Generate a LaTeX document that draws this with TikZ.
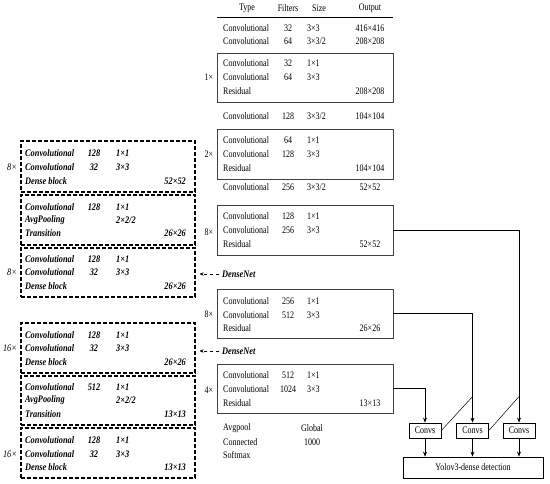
\documentclass[tikz,border=0pt]{standalone}
\usepackage{fontspec}
\setmainfont{Liberation Serif}[FakeStretch=0.8]
\newfontfamily\lfont{Liberation Serif}[FakeStretch=0.83]
\usetikzlibrary{arrows.meta}
\newcommand\trow[6]{%
  \node[txt,anchor=west] (#1t) at (223,#2) {#3};
  \node[txt] (#1f) at (288,#2) {#4};
  \node[txt,anchor=west] (#1s) at (307,#2) {#5};
  \node[txt] (#1o) at (370,#2) {#6};}
\newcommand\lrow[6]{%
  \node[ltxt,anchor=west] (#1t) at (25,#2) {#3};
  \node[ltxt] (#1f) at (94,#2) {#4};
  \node[ltxt,anchor=west] (#1s) at (116,#2) {#5};
  \node[ltxt,anchor=east] (#1o) at (186,#2) {#6};}
\begin{document}
\begin{tikzpicture}[x=1pt,y=-1pt,
  txt/.style={inner sep=0pt,font=\fontsize{10}{11}\selectfont},
  ltxt/.style={inner sep=0pt,font=\lfont\fontsize{10}{11}\selectfont\bfseries\itshape},
  mtxt/.style={inner sep=0pt,font=\lfont\fontsize{10}{11}\selectfont\itshape},
  rbox/.style={draw=black!75,line width=0.9pt,minimum width=176pt,inner sep=0pt},
  lbox/.style={draw,line width=1.1pt,dash pattern=on 4pt off 2pt,minimum width=174pt,inner sep=0pt},
  cbox/.style={draw,line width=0.8pt,minimum width=32pt,minimum height=15pt,inner sep=0pt,font=\fontsize{10}{11}\selectfont},
  arr/.style={-{Stealth[length=5pt,width=4pt]},line width=0.6pt},
  darr/.style={-{Stealth[length=4pt,width=3.5pt]},line width=0.8pt,dash pattern=on 3pt off 3pt}]
\useasboundingbox (0,0) rectangle (550,484);
% header
\node[txt] (hT) at (247,8) {Type};
\node[txt] (hF) at (288,8) {Filters};
\node[txt] (hS) at (319,8) {Size};
\node[txt] (hO) at (370,8) {Output};
\draw[line width=0.8pt] (217,17) -- (393,17);
% right table
\trow{a}{28}{Convolutional}{32}{3×3}{416×416}
\trow{b}{41}{Convolutional}{64}{3×3/2}{208×208}
\node[rbox,minimum height=49pt] (b1) at (305,77.5) {};
\trow{c}{63}{Convolutional}{32}{1×1}{}
\trow{d}{77}{Convolutional}{64}{3×3}{}
\trow{e}{91}{Residual}{}{}{208×208}
\node[txt] (m1) at (209,77) {1×};
\trow{f}{116}{Convolutional}{128}{3×3/2}{104×104}
\node[rbox,minimum height=50pt] (b2) at (305,154) {};
\trow{g}{140}{Convolutional}{64}{1×1}{}
\trow{h}{154}{Convolutional}{128}{3×3}{}
\trow{i}{168}{Residual}{}{}{104×104}
\node[txt] (m2) at (209,154) {2×};
\trow{j}{187}{Convolutional}{256}{3×3/2}{52×52}
\node[rbox,minimum height=50pt] (b3) at (305,230) {};
\trow{k}{216}{Convolutional}{128}{1×1}{}
\trow{l}{230}{Convolutional}{256}{3×3}{}
\trow{m}{244}{Residual}{}{}{52×52}
\node[txt] (m3) at (209,232) {8×};
\node[rbox,minimum height=49pt] (b4) at (305,313.5) {};
\trow{n}{301}{Convolutional}{256}{1×1}{}
\trow{o}{315}{Convolutional}{512}{3×3}{}
\trow{p}{328}{Residual}{}{}{26×26}
\node[txt] (m4) at (209,314) {8×};
\node[rbox,minimum height=49pt] (b5) at (305,388.5) {};
\trow{q}{375}{Convolutional}{512}{1×1}{}
\trow{r}{389}{Convolutional}{1024}{3×3}{}
\trow{s}{403}{Residual}{}{}{13×13}
\node[txt] (m5) at (209,390) {4×};
\node[txt,anchor=west] (ap) at (223,428) {Avgpool};
\node[txt] (apg) at (312,428) {Global};
\node[txt,anchor=west] (cn) at (223,442) {Connected};
\node[txt] (cnn) at (312,442) {1000};
\node[txt,anchor=west] (sm) at (223,455) {Softmax};
% left dense boxes
\node[lbox,minimum height=51pt] (LA) at (108,166.5) {};
\lrow{la}{153}{Convolutional}{128}{1×1}{}
\lrow{lb}{167}{Convolutional}{32}{3×3}{}
\lrow{lc}{181}{Dense block}{}{}{52×52}
\node[mtxt] (lm1) at (12,167) {8×};
\node[lbox,minimum height=50pt] (LB) at (108,220) {};
\lrow{ld}{207}{Convolutional}{128}{1×1}{}
\lrow{le}{220}{AvgPooling}{}{2×2/2}{}
\lrow{lf}{233}{Transition}{}{}{26×26}
\node[lbox,minimum height=49pt] (LC) at (108,272.5) {};
\lrow{lg}{259}{Convolutional}{128}{1×1}{}
\lrow{lh}{272}{Convolutional}{32}{3×3}{}
\lrow{li}{286}{Dense block}{}{}{26×26}
\node[mtxt] (lm2) at (12,272) {8×};
\node[lbox,minimum height=50pt] (LD) at (108,348) {};
\lrow{lj}{335}{Convolutional}{128}{1×1}{}
\lrow{lk}{348}{Convolutional}{32}{3×3}{}
\lrow{ll}{362}{Dense block}{}{}{26×26}
\node[mtxt] (lm3) at (10,348) {16×};
\node[lbox,minimum height=49pt] (LE) at (108,400.5) {};
\lrow{lm}{387}{Convolutional}{512}{1×1}{}
\lrow{ln}{400}{AvgPooling}{}{2×2/2}{}
\lrow{lo}{414}{Transition}{}{}{13×13}
\node[lbox,minimum height=50pt] (LF) at (108,453) {};
\lrow{lp}{440}{Convolutional}{128}{1×1}{}
\lrow{lq}{454}{Convolutional}{32}{3×3}{}
\lrow{lr}{467}{Dense block}{}{}{13×13}
\node[mtxt] (lm4) at (10,454) {16×};
% DenseNet arrows
\node[ltxt,anchor=west] (dn1) at (222,274) {DenseNet};
\node[ltxt,anchor=west] (dn2) at (222,351) {DenseNet};
\draw[darr] ([xshift=-3pt]dn1.west) -- ([xshift=4pt]LC.east |- dn1.west);
\draw[darr] ([xshift=-3pt]dn2.west) -- ([xshift=4pt]LD.east |- dn2.west);
% detection part
\node[cbox] (c1) at (425,430.5) {Convs};
\node[cbox] (c2) at (472.5,430.5) {Convs};
\node[cbox] (c3) at (519,430.5) {Convs};
\node[draw,line width=0.8pt,minimum width=140pt,minimum height=21pt,inner sep=0pt,font=\fontsize{10}{11}\selectfont] (det) at (473,467.5) {Yolov3-dense detection};
\draw[arr] (b3.east) -| (c3.north);
\draw[arr] (b4.east) -| (c2.north);
\draw[arr] (b5.east) -| (c1.north);
\path (c2.north) ++(0,-26) coordinate (j2);
\path (c3.north) ++(0,-26) coordinate (j3);
\draw[line width=0.5pt] (c1.east) -- (j2);
\draw[line width=0.5pt] (c2.east) -- (j3);
\draw[arr] (c1.south) -- (c1.south |- det.north);
\draw[arr] (c2.south) -- (c2.south |- det.north);
\draw[arr] (c3.south) -- (c3.south |- det.north);
\end{tikzpicture}
\end{document}
